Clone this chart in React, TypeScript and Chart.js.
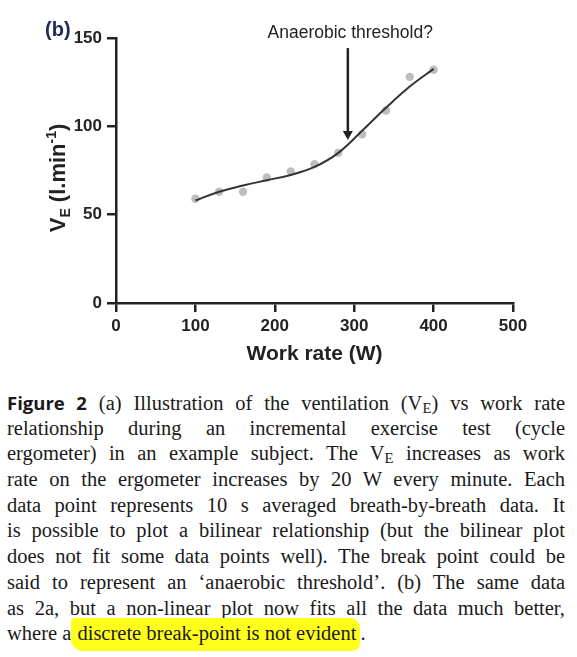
import { useEffect, useRef } from "react";
import { Chart, ChartConfiguration, Plugin, registerables } from "chart.js";

Chart.register(...registerables);

// measured breath-by-breath points (grey dots)
const workRate = [100, 130, 160, 190, 220, 250, 280, 310, 340, 370, 400];
const ventilation = [59, 63, 63, 71, 74.5, 78.5, 85, 95.5, 109, 128, 132];

// non-linear fit drawn through the data
const fitWorkRate = [100, 130, 160, 190, 220, 250, 280, 310, 340, 370, 400];
const fitVentilation = [58, 63, 66.5, 69.5, 72.5, 77, 85, 97.5, 110.5, 122.5, 132.5];

const xTicks = [0, 100, 200, 300, 400, 500];
const yTicks = [0, 50, 100, 150];

// annotation arrow (in data units)
const arrowLabel = "Anaerobic threshold?";
const arrowX = 292;
const arrowFrom = 144.3;
const arrowTo = 92.3;
const labelX = 295;
const labelY = 152.8;

const INK = "#222";
const SANS = "'Liberation Sans', Arial, sans-serif";

const overlayPlugin: Plugin = {
  id: "overlay",
  afterDraw(chart) {
    const { ctx } = chart;
    const x = chart.scales.x;
    const y = chart.scales.y;
    ctx.save();

    // panel letter
    ctx.fillStyle = "#1e2a55";
    ctx.font = `bold 20px ${SANS}`;
    ctx.textAlign = "left";
    ctx.textBaseline = "alphabetic";
    ctx.fillText("(b)", 45, 36);

    // y axis title with subscript and superscript
    ctx.fillStyle = INK;
    const parts = [
      { t: "V", size: 22, dy: 0 },
      { t: "E", size: 14, dy: 5 },
      { t: " (l.min", size: 22, dy: 0 },
      { t: "-1", size: 14, dy: -9 },
      { t: ")", size: 22, dy: 0 },
    ];
    let total = 0;
    parts.forEach((p) => {
      ctx.font = `bold ${p.size}px ${SANS}`;
      total += ctx.measureText(p.t).width;
    });
    ctx.translate(65, 178);
    ctx.rotate(-Math.PI / 2);
    let cx = -total / 2;
    parts.forEach((p) => {
      ctx.font = `bold ${p.size}px ${SANS}`;
      ctx.fillText(p.t, cx, p.dy);
      cx += ctx.measureText(p.t).width;
    });
    ctx.setTransform(chart.currentDevicePixelRatio, 0, 0, chart.currentDevicePixelRatio, 0, 0);

    // arrow
    const ax = x.getPixelForValue(arrowX);
    const top = y.getPixelForValue(arrowFrom);
    const tip = y.getPixelForValue(arrowTo);
    ctx.strokeStyle = INK;
    ctx.lineWidth = 2.5;
    ctx.beginPath();
    ctx.moveTo(ax, top);
    ctx.lineTo(ax, tip - 6);
    ctx.stroke();
    ctx.fillStyle = INK;
    ctx.beginPath();
    ctx.moveTo(ax - 5, tip - 9);
    ctx.lineTo(ax + 5, tip - 9);
    ctx.lineTo(ax, tip);
    ctx.closePath();
    ctx.fill();

    ctx.font = `17.5px ${SANS}`;
    ctx.textAlign = "center";
    ctx.textBaseline = "middle";
    ctx.fillText(arrowLabel, x.getPixelForValue(labelX), y.getPixelForValue(labelY));
    ctx.restore();
  },
};

function VeChart() {
  const canvasRef = useRef<HTMLCanvasElement>(null);
  const chartRef = useRef<Chart | null>(null);

  useEffect(() => {
    if (!canvasRef.current) return;
    if (chartRef.current) chartRef.current.destroy();

    const config: ChartConfiguration<"scatter"> = {
      type: "scatter",
      data: {
        datasets: [
          {
            label: "fit",
            data: fitWorkRate.map((w, i) => ({ x: w, y: fitVentilation[i] })),
            showLine: true,
            borderColor: "#333",
            borderWidth: 2,
            pointRadius: 0,
            tension: 0.4,
            order: 0,
          },
          {
            label: "data",
            data: workRate.map((w, i) => ({ x: w, y: ventilation[i] })),
            backgroundColor: "#bdbdbd",
            borderWidth: 0,
            pointRadius: 4.2,
            order: 1,
          },
        ],
      },
      options: {
        animation: false,
        responsive: true,
        maintainAspectRatio: false,
        layout: { padding: { top: 38, right: 64, left: 0, bottom: 0 } },
        scales: {
          x: {
            type: "linear",
            min: xTicks[0],
            max: xTicks[xTicks.length - 1],
            afterBuildTicks: (s) => {
              s.ticks = xTicks.map((v) => ({ value: v }));
            },
            afterFit: (s) => {
              s.height = 87;
            },
            grid: { drawOnChartArea: false, drawTicks: true, tickLength: 9, lineWidth: 2.5, color: INK },
            border: { display: true, width: 2.5, color: INK },
            ticks: { padding: 4, color: INK, font: { family: SANS, size: 17, weight: "bold" } },
            title: {
              display: true,
              text: "Work rate (W)",
              color: INK,
              font: { family: SANS, size: 21, weight: "bold" },
              padding: { top: 0, bottom: 23 },
            },
          },
          y: {
            type: "linear",
            min: yTicks[0],
            max: yTicks[yTicks.length - 1],
            afterBuildTicks: (s) => {
              s.ticks = yTicks.map((v) => ({ value: v }));
            },
            afterFit: (s) => {
              s.width = 116;
            },
            grid: { drawOnChartArea: false, drawTicks: true, tickLength: 9, lineWidth: 2.5, color: INK },
            border: { display: true, width: 2.5, color: INK },
            ticks: { padding: 5, color: INK, font: { family: SANS, size: 17, weight: "bold" } },
          },
        },
        plugins: {
          legend: { display: false },
          tooltip: { enabled: false },
        },
      },
      plugins: [overlayPlugin],
    };

    chartRef.current = new Chart(canvasRef.current, config);
    return () => {
      if (chartRef.current) {
        chartRef.current.destroy();
        chartRef.current = null;
      }
    };
  }, []);

  return (
    <div style={{ position: "relative", width: 577, height: 390 }}>
      <canvas ref={canvasRef} />
    </div>
  );
}

const lineStyle: React.CSSProperties = {
  height: 25.7,
  lineHeight: "25.7px",
  whiteSpace: "nowrap",
  textAlign: "justify",
  textAlignLast: "justify",
};

const sub: React.CSSProperties = { fontSize: "0.72em", verticalAlign: "-0.22em", lineHeight: 0 };

function Caption() {
  return (
    <div
      style={{
        marginLeft: 7,
        width: 558,
        fontFamily: "'Liberation Serif', 'Times New Roman', serif",
        fontSize: 20.5,
        color: "#1a1a1a",
      }}
    >
      <div style={lineStyle}>
        <span style={{ fontFamily: "'Open Sans', sans-serif", fontWeight: 700, fontSize: 18.5 }}>Figure 2</span>{" "}
        (a) Illustration of the ventilation (V<span style={sub}>E</span>) vs work rate
      </div>
      <div style={lineStyle}>relationship during an incremental exercise test (cycle</div>
      <div style={lineStyle}>
        ergometer) in an example subject. The V<span style={sub}>E</span> increases as work
      </div>
      <div style={lineStyle}>rate on the ergometer increases by 20 W every minute. Each</div>
      <div style={lineStyle}>data point represents 10 s averaged breath-by-breath data. It</div>
      <div style={lineStyle}>is possible to plot a bilinear relationship (but the bilinear plot</div>
      <div style={lineStyle}>does not fit some data points well). The break point could be</div>
      <div style={lineStyle}>said to represent an ‘anaerobic threshold’. (b) The same data</div>
      <div style={lineStyle}>as 2a, but a non-linear plot now fits all the data much better,</div>
      <div style={{ ...lineStyle, textAlign: "left", textAlignLast: "left" }}>
        where a{" "}
        <span
          style={{
            background: "#ffff1a",
            padding: "4px 4px 7px 6px",
            marginLeft: -5,
            borderRadius: "4px 10px 8px 12px",
          }}
        >
          discrete break-point is not evident
        </span>
        .
      </div>
    </div>
  );
}

export default function App() {
  return (
    <div style={{ position: "absolute", left: 0, top: 0, width: 577, background: "#fff" }}>
      <VeChart />
      <Caption />
    </div>
  );
}
